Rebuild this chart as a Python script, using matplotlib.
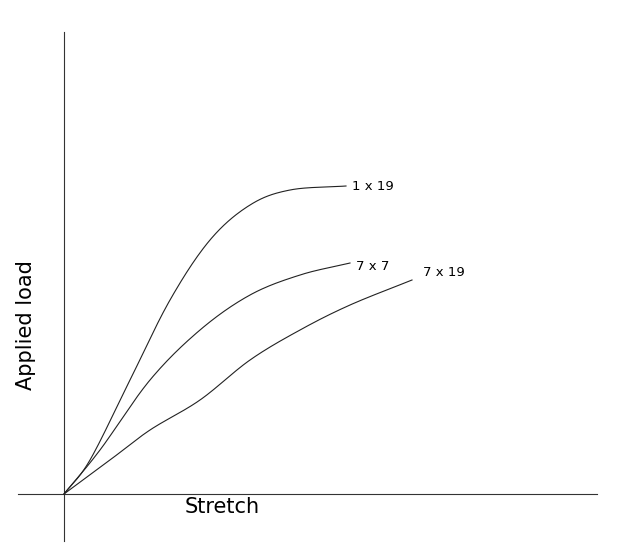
import matplotlib
matplotlib.use("Agg")
import matplotlib.pyplot as plt
import numpy as np

# curves: stretch (x) vs applied load (y), arbitrary units
x_1x19 = [0, 26, 66, 106, 146, 186, 226, 282]
y_1x19 = [0, 34, 114, 194, 254, 289, 304, 308]
x_7x7 = [0, 36, 86, 136, 186, 236, 286]
y_7x7 = [0, 44, 114, 164, 199, 219, 231]
x_7x19 = [0, 46, 86, 136, 186, 236, 286, 348]
y_7x19 = [0, 34, 64, 94, 134, 164, 189, 214]
labels = ["1 x 19", "7 x 7", "7 x 19"]
label_pos = [(288, 307), (292, 228), (359, 222)]

def smooth(xs, ys):
    xs = np.array(xs, float); ys = np.array(ys, float)
    P = np.column_stack([xs, ys])
    P = np.vstack([2*P[0]-P[1], P, 2*P[-1]-P[-2]])
    out = []
    for i in range(1, len(P)-2):
        p0, p1, p2, p3 = P[i-1], P[i], P[i+1], P[i+2]
        t = np.linspace(0, 1, 30)[:, None]
        out.append(0.5*((2*p1) + (-p0+p2)*t + (2*p0-5*p1+4*p2-p3)*t**2 + (-p0+3*p1-3*p2+p3)*t**3))
    o = np.vstack(out)
    return o[:, 0], o[:, 1]

fig = plt.figure(figsize=(6.19, 5.5), dpi=100)
ax = fig.add_axes([0, 0, 1, 1])
ax.set_xlim(-64, 555)
ax.set_ylim(-56, 494)
ax.axis("off")
ax.plot([-46, 533], [0, 0], color="#333333", lw=0.8)
ax.plot([0, 0], [-47, 462], color="#333333", lw=0.8)
for xs, ys, lab, (lx, ly) in zip([x_1x19, x_7x7, x_7x19], [y_1x19, y_7x7, y_7x19], labels, label_pos):
    sx, sy = smooth(xs, ys)
    ax.plot(sx, sy, color="#222222", lw=0.8)
    ax.text(lx, ly, lab, fontsize=9.5, va="center", ha="left")
ax.text(-38, 169, "Applied load", rotation=90, fontsize=15, ha="center", va="center")
ax.text(158, -13, "Stretch", fontsize=15, ha="center", va="center")
fig.savefig("out.png", dpi=100)
